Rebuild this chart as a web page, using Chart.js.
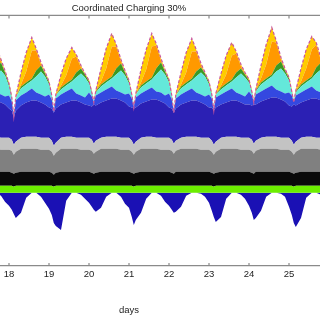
<!DOCTYPE html>
<html>
<head>
<meta charset="utf-8">
<script src="https://cdn.jsdelivr.net/npm/chart.js@4.4.0/dist/chart.umd.min.js"></script>
<style>
html,body{margin:0;padding:0;background:#fff;overflow:hidden;}
#wrap{position:absolute;left:-66px;top:0;width:390px;height:320px;}
</style>
</head>
<body>
<div id="wrap"><canvas id="chart"></canvas></div>
<script>

// time axis (days)
const days = [17.57,17.68,17.8,17.9,
18.0,18.07,18.12,18.17,18.3,18.43,18.57,18.68,18.8,18.9,
19.0,19.07,19.12,19.17,19.3,19.43,19.57,19.68,19.8,19.9,
20.0,20.07,20.12,20.17,20.3,20.43,20.57,20.68,20.8,20.9,
21.0,21.07,21.12,21.17,21.3,21.43,21.57,21.68,21.8,21.9,
22.0,22.07,22.12,22.17,22.3,22.43,22.57,22.68,22.8,22.9,
23.0,23.07,23.12,23.17,23.3,23.43,23.57,23.68,23.8,23.9,
24.0,24.07,24.12,24.17,24.3,24.43,24.57,24.68,24.8,24.9,
25.0,25.07,25.12,25.17,25.3,25.43,25.57,25.68,25.8,25.9,
26.0,26.07];

const dayTicks = [18,19,20,21,22,23,24,25];

// stacked layer tops (cumulative), bottom to top
const baseGreen = [7,7,7,7,
7,7,6,7,7,7,7,7,7,7,
7,7,6,7,7,7,7,7,7,7,
7,7,7,7,7,7,7,7,7,7,
7,7,6,7,7,7,7,7,7,7,
7,7,7,7,7,7,7,7,7,7,
7,7,6,7,7,7,7,7,7,7,
7,7,7,7,7,7,7,7,7,7,
7,7,6,7,7,7,7,7,7,7,
7,7];

const blackTop = [21,21,21,21,
21,20,19,20,21,21,21,21,21,21,
21,20,18,20,21,21,21,21,21,21,
21,20,19,20,21,21,21,21,21,21,
21,20,19,20,21,21,21,21,21,21,
21,20,19,21,21,21,21,21,21,21,
21,20,19,20,21,21,21,21,21,21,
21,20,19,21,21,21,21,21,21,21,
21,20,19,20,21,21,21,21,21,21,
21,20];

const grayTop = [44,44,43,43,
43,42,38,41,44,44,44,44,43,43,
43,41,37,40,44,44,44,44,43,43,
43,42,39,41,44,44,44,44,43,43,
43,41,38,41,44,44,44,44,43,43,
43,42,39,42,44,44,44,44,43,43,
43,41,38,41,44,44,44,44,43,43,
43,42,39,42,44,44,44,44,43,43,
43,41,38,41,44,44,44,44,43,43,
43,42];

const lightGrayTop = [56,56,55,55,
55,53,48,51,55,56,56,56,55,55,
55,52,47,50,55,56,56,55,55,55,
55,53,49,52,55,56,56,56,55,55,
55,52,48,51,55,56,56,55,55,55,
55,53,49,52,55,56,56,56,55,55,
55,52,48,51,55,56,56,56,55,55,
55,53,49,52,55,56,56,56,55,55,
55,52,48,51,55,56,56,55,55,55,
55,53];

const indigoTop = [92,92,90,88,
84,82,75,82,87,90,92,92,90,88,
85,84,80,84,88,90,92,92,90,88,
87,86,88,87,90,92,94,94,92,90,
86,85,84,85,89,91,93,93,91,89,
85,84,80,84,88,90,92,92,90,88,
85,85,82,85,88,90,92,92,90,88,
88,87,88,88,91,93,95,95,93,91,
87,86,88,87,90,92,94,94,92,90,
87,86];

const blueTop = [104,100,98,96,
97,91,76,92,97,100,104,100,98,96,
98,93,81,94,98,101,104,99,97,95,
100,96,91,97,100,103,106,102,100,98,
99,94,86,95,99,102,105,101,100,97,
99,93,81,94,98,101,104,100,98,96,
98,94,83,95,98,101,104,100,98,96,
101,97,91,98,101,104,107,103,101,99,
100,97,91,97,100,103,106,102,100,98,
100,96];

const cyanTop = [112,118,122,117,
106,95,77,95,104,108,112,116,121,116,
108,97,82,97,103,107,111,115,119,115,
109,100,92,100,106,110,114,118,122,117,
109,98,87,98,105,109,113,118,123,118,
110,97,82,97,104,108,112,116,120,116,
108,98,84,98,103,107,111,115,119,115,
110,101,92,101,108,112,116,121,124,119,
112,101,92,100,106,110,114,119,123,118,
110,100];

const greenTop = [114,124,130,120,
108,96,78,95,106,110,114,122,127,119,
110,98,83,97,105,109,113,120,124,118,
111,101,92,101,108,112,116,124,129,120,
111,99,87,98,107,111,115,124,130,121,
112,98,82,97,106,110,114,121,125,119,
110,99,84,98,105,109,113,120,124,118,
112,102,92,102,110,114,118,127,131,122,
114,102,92,101,108,112,116,125,130,121,
112,101];

const orangeTop = [140,144,131,121,
108,96,78,96,108,121,142,142,128,120,
110,98,83,98,107,117,134,136,125,118,
111,101,93,102,111,124,146,146,131,121,
111,99,88,99,110,123,146,147,132,122,
112,98,83,98,108,120,141,141,127,119,
110,99,85,99,107,118,137,139,126,119,
112,102,93,103,114,128,151,150,133,123,
114,102,93,102,111,124,143,148,132,122,
112,101];

const yellowTop = [152,146,133,122,
110,97,78,97,120,140,155,144,130,121,
112,99,83,99,118,134,145,138,127,119,
113,102,93,103,124,144,159,148,133,122,
113,100,88,100,123,143,159,149,134,123,
114,99,83,99,120,140,154,143,129,120,
112,100,85,100,119,137,150,141,128,120,
114,103,93,104,127,148,165,152,135,124,
116,103,93,103,124,143,156,150,134,123,
114,102];

// negative part
const negative = [0,0,-3,-9,
-13,-17,-21,-25,-20,-5,0,0,-4,-10,
-16,-22,-30,-33,-37,-8,0,0,-2,-6,
-10,-14,-17,-19,-15,-4,0,0,-4,-11,
-15,-24,-32,-27,-20,-6,0,0,-3,-9,
-13,-17,-20,-19,-14,-3,0,0,-1,-4,
-10,-18,-24,-29,-24,-6,0,0,-2,-6,
-13,-20,-27,-25,-18,-4,0,0,-1,-4,
-14,-22,-30,-34,-25,-5,0,0,-2,-8,
-14,-18];

// dashed demand line
const demand = [152,146,133,122,
109,95,76,96,120,140,155,144,130,121,
111,97,81,98,118,134,145,138,127,119,
112,100,90,102,124,144,159,148,133,122,
112,98,85,99,123,143,159,149,134,123,
113,97,80,98,120,140,154,143,129,120,
111,98,82,99,119,137,150,141,128,120,
113,101,90,103,127,148,165,152,135,124,
115,101,90,102,124,143,156,150,134,123,
113,100];


function pts(arr)
{
return arr.map((v,i)=>({x:days[i],y:v}));
}

function area(label,arr,color,fill)
{
return {
label:label,
data:pts(arr),
backgroundColor:color,
borderColor:color,
borderWidth:0,
pointRadius:0,
tension:0,
fill:fill
};
}

const FONT = 'Liberation Sans, Arial, Helvetica, sans-serif';

// frame: top box line and inward ticks
const frame = {
id:'frame',
afterDatasetsDraw(chart)
{
const {ctx, chartArea:a, scales:{x}} = chart;
ctx.save();
ctx.strokeStyle = '#8a8a8a';
ctx.lineWidth = 1.2;
ctx.beginPath();
ctx.moveTo(a.left, a.top);
ctx.lineTo(a.right, a.top);
dayTicks.forEach(d=>{
const px = x.getPixelForValue(d);
ctx.moveTo(px, a.bottom);
ctx.lineTo(px, a.bottom-3);
ctx.moveTo(px, a.top);
ctx.lineTo(px, a.top+3);
});
ctx.stroke();
ctx.restore();
}
};

const ctx = document.getElementById('chart').getContext('2d');

const chart = new Chart(ctx,{
type:'line',
data:{
datasets:[
area('base',baseGreen,'#6cee00','origin'),
area('black',blackTop,'#0a0a0a','-1'),
area('gray',grayTop,'#808080','-1'),
area('light gray',lightGrayTop,'#c3c3c3','-1'),
area('indigo',indigoTop,'#2b20b4','-1'),
area('blue',blueTop,'#3448e0','-1'),
area('cyan',cyanTop,'#64e8da','-1'),
area('green',greenTop,'#3b9a22','-1'),
area('orange',orangeTop,'#ff9900','-1'),
area('yellow',yellowTop,'#ffcc00','-1'),
area('negative',negative,'#1a10b4','origin'),
{
label:'demand',
data:pts(demand),
borderColor:'#c9559c',
borderWidth:1.2,
borderDash:[3,2],
pointRadius:0,
tension:0,
fill:false,
order:-1
}
]
},
options:{
responsive:true,
maintainAspectRatio:false,
animation:false,
devicePixelRatio:1,
layout:{padding:0},
plugins:{
legend:{display:false},
tooltip:{enabled:false},
title:{
display:true,
text:'Coordinated Charging 30%',
color:'#222',
font:{family:FONT,size:9.5,weight:'normal'},
padding:{top:3,bottom:1}
}
},
scales:{
x:{
type:'linear',
min:16.125,
max:25.875,
afterBuildTicks:s=>{ s.ticks = dayTicks.map(v=>({value:v})); },
afterFit:s=>{ s.height = 54; },
grid:{display:false,drawTicks:false},
border:{display:true,color:'#8a8a8a',width:1.2},
ticks:{color:'#222',padding:3,font:{family:FONT,size:9.5},maxRotation:0},
title:{display:true,text:'days',color:'#222',font:{family:FONT,size:9.5},padding:{top:0,bottom:4}}
},
y:{
display:false,
min:-73,
max:177
}
}
},
plugins:[frame]
});

</script>
</body>
</html>
